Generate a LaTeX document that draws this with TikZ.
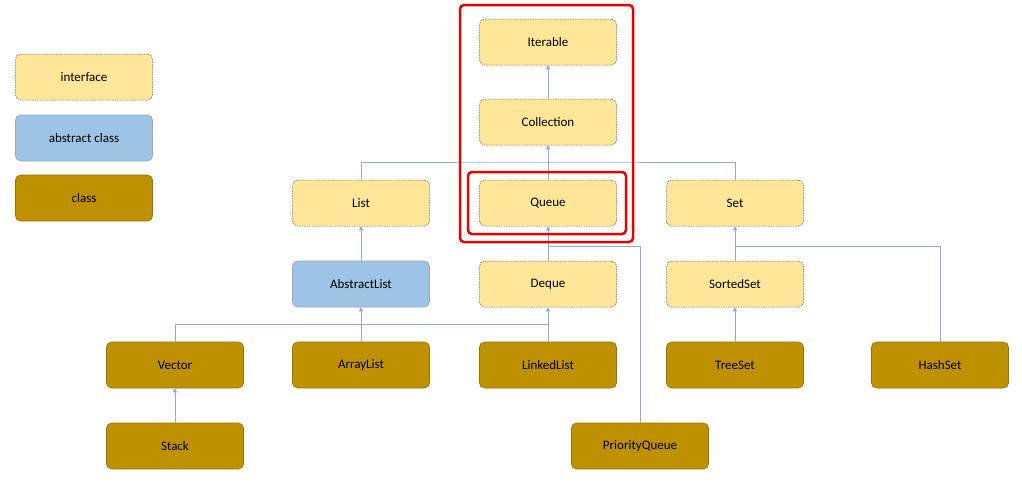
\documentclass[tikz,border=0pt]{standalone}
\usepackage{fontspec}
\setmainfont{Carlito}
\usetikzlibrary{arrows.meta}
\definecolor{ifc}{HTML}{FFE699}
\definecolor{abs}{HTML}{9DC3E6}
\definecolor{cls}{HTML}{BF9000}
\definecolor{ln}{HTML}{8FAADC}
\begin{document}
\begin{tikzpicture}[x=1pt,y=-1pt,
 box/.style={rounded corners=5pt,minimum width=137pt,minimum height=46pt,font=\fontsize{13}{15}\selectfont,inner sep=0pt},
 ifc/.style={box,fill=ifc,draw=gray!80!black,dashed,dash pattern=on 1.5pt off 1pt,line width=0.5pt},
 abs/.style={box,fill=abs,draw=gray!70,line width=0.6pt},
 cls/.style={box,fill=cls,draw=cls!80!black,line width=0.6pt},
 con/.style={draw=ln,line width=0.8pt},
 arr/.style={con,-{Triangle[length=4pt,width=4pt,fill=ln!80!blue]}},
 red/.style={draw=red!90!black,line width=2.5pt,rounded corners=4pt}]
\useasboundingbox (0,0) rectangle (1022,483);
\node[ifc] (li) at (84,77) {interface};
\node[abs] (la) at (84,138) {abstract class};
\node[cls] (lc) at (84,198) {class};
\node[ifc] (it) at (548,42) {Iterable};
\node[ifc] (co) at (548,122) {Collection};
\node[ifc] (list) at (361,203) {List};
\node[ifc] (q) at (548,203) {Queue};
\node[ifc] (set) at (735,203) {Set};
\node[abs] (al) at (361,284) {AbstractList};
\node[ifc] (dq) at (548,284) {Deque};
\node[ifc] (ss) at (735,284) {SortedSet};
\node[cls] (vec) at (175,365) {Vector};
\node[cls] (arl) at (361,365) {ArrayList};
\node[cls] (ll) at (548,365) {LinkedList};
\node[cls] (ts) at (735,365) {TreeSet};
\node[cls] (hs) at (940,365) {HashSet};
\node[cls] (st) at (175,446) {Stack};
\node[cls] (pq) at (640,446) {PriorityQueue};
% edges
\draw[arr] (co) -- (it);
\draw[arr] (q) -- (co);
\draw[con] (list.north) |- (548,162) -| (set.north);
\draw[arr] (al) -- (list);
\draw[arr] (dq) -- (q);
\draw[con] (pq.north) |- (548,246);
\draw[arr] (ss) -- (set);
\draw[con] (hs.north) |- (735,246);
\draw[arr] (ts) -- (ss);
\draw[arr] (arl) -- (al);
\draw[con] (vec.north) |- (548,324);
\draw[arr] (ll) -- (dq);
\draw[arr] (st) -- (vec);
% red frames
\draw[red] (460,5) rectangle (633,242);
\draw[red] (468,172) rectangle (626,234);
\end{tikzpicture}
\end{document}
